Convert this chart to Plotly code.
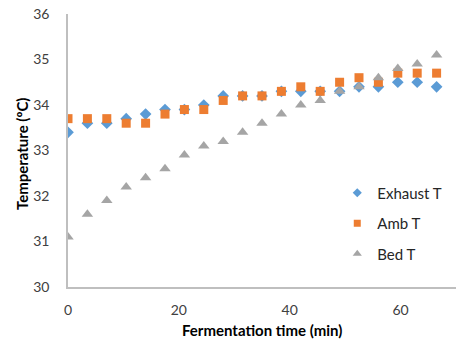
import plotly.graph_objects as go

# Sampling times (min) and the three temperature series (ºC)
time_min = [0, 3.5, 7, 10.5, 14, 17.5, 21, 24.5, 28, 31.5,
            35, 38.5, 42, 45.5, 49, 52.5, 56, 59.5, 63, 66.5]
exhaust_t = [33.4, 33.6, 33.6, 33.7, 33.8, 33.9, 33.9, 34.0, 34.2, 34.2,
             34.2, 34.3, 34.3, 34.3, 34.3, 34.4, 34.4, 34.5, 34.5, 34.4]
amb_t = [33.7, 33.7, 33.7, 33.6, 33.6, 33.8, 33.9, 33.9, 34.1, 34.2,
         34.2, 34.3, 34.4, 34.3, 34.5, 34.6, 34.5, 34.7, 34.7, 34.7]
bed_t = [31.1, 31.6, 31.9, 32.2, 32.4, 32.6, 32.9, 33.1, 33.2, 33.4,
         33.6, 33.8, 34.0, 34.1, 34.3, 34.4, 34.6, 34.8, 34.9, 35.1]

series_names = ["Exhaust T", "Amb T", "Bed T"]
series_values = [exhaust_t, amb_t, bed_t]
series_symbols = ["diamond", "square", "triangle-up"]
series_colors = ["#5b9bd5", "#ed7d31", "#a5a5a5"]
plot_sizes = [9, 9, 10]
legend_sizes = [7, 7, 8]

FONT = "Lato, Calibri, Carlito, sans-serif"

fig = go.Figure()
for name, vals, sym, col, ps in zip(series_names, series_values, series_symbols,
                                    series_colors, plot_sizes):
    fig.add_trace(go.Scatter(x=time_min, y=vals, mode="markers", name=name,
                             legendgroup=name, showlegend=False,
                             marker=dict(symbol=sym, size=ps, color=col)))
# legend entries with smaller symbols
for name, sym, col, ls in zip(series_names, series_symbols, series_colors, legend_sizes):
    fig.add_trace(go.Scatter(x=[None], y=[None], mode="markers", name=name,
                             legendgroup=name, showlegend=True,
                             marker=dict(symbol=sym, size=ls, color=col)))

title_font = dict(family=FONT, size=15, color="#000000")

fig.update_layout(
    width=474, height=347,
    margin=dict(l=68, r=18, t=14, b=60),
    paper_bgcolor="white", plot_bgcolor="white",
    font=dict(family=FONT, size=14, color="#404040"),
    showlegend=True,
    legend=dict(x=0.694, y=0.405, xanchor="left", yanchor="top",
                font=dict(family=FONT, size=15, color="#262626"),
                tracegroupgap=8, itemwidth=30, itemsizing="trace",
                bgcolor="rgba(0,0,0,0)"),
    xaxis=dict(range=[0, 70], tickvals=[0, 20, 40, 60], showgrid=False,
               zeroline=False, showline=True, linecolor="#bfbfbf", linewidth=1.5,
               ticks="", ticklabelstandoff=9, automargin=False),
    yaxis=dict(range=[30, 36], dtick=1, showgrid=False, zeroline=False,
               showline=True, linecolor="#bfbfbf", linewidth=1.5,
               ticks="", ticklabelstandoff=14, automargin=False),
    annotations=[
        dict(text="<b>Fermentation time (min)</b>", xref="paper", yref="paper",
             x=0.5, y=-0.157, xanchor="center", yanchor="middle",
             showarrow=False, font=title_font),
        dict(text="<b>Temperature (ºC)</b>", xref="paper", yref="paper",
             x=-0.119, y=0.49, xanchor="center", yanchor="middle",
             textangle=-90, showarrow=False, font=title_font),
    ],
)

fig.write_html("out.html")
